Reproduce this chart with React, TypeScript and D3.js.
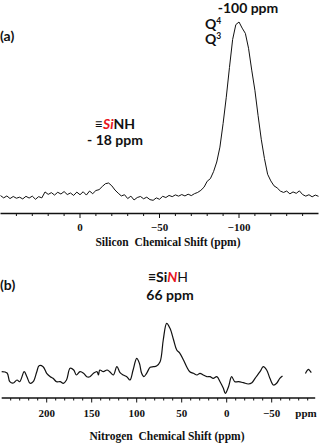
import * as d3 from "d3";

// (a) 29Si spectrum, intensity normalised so the main peak = 100
const siShift = [
  50, 48, 46, 44, 42, 40, 38, 36, 34, 32, 30, 28, 26, 24, 22, 20, 18, 16, 14, 12, 10, 8, 6, 4, 2, 0,
  -2, -4, -6, -8, -10, -12, -14, -16, -18, -20, -22, -24, -26, -28, -30, -32, -34, -36, -38, -40,
  -42, -44, -46, -48, -50, -52, -54, -56, -58, -60, -62, -64, -66, -68, -70, -72, -74, -76, -78, -80,
  -82, -84, -86, -88, -90, -92, -94, -96, -98, -100, -102, -104, -106, -108, -110, -112, -114, -116,
  -118, -120, -122, -124, -126, -128, -130, -132, -134, -136, -138, -140, -142, -144, -146, -148, -150,
];
const siIntensity = [
  0.8, -0.5, 0.6, -0.9, 0.3, -0.7, -0.1, -1.1, 0.4, -0.6, 0.5, -1.3, 0.2, -0.5, 2.9, 1.5, 2.5, 1.1, 2.7, 1.7, 3.1, 1.4, 2.3, 0.9, 2.8, 1.3,
  3.0, 1.1, 3.4, 1.9, 3.7, 4.2, 6.0, 7.6, 8.0, 6.4, 4.0, 2.2, 0.6, 1.3, -0.9, 0.5, -1.7, -0.3, 0.3, -1.0,
  -0.1, -1.5, -1.9, -0.5, -1.3, 0.4, -0.3, 0.9, 0.2, 1.2, 0.5, 1.4, 0.6, 1.6, 0.8, 1.9, 2.6, 3.8, 5.6, 9.0,
  10.5, 14.5, 20.0, 28.5, 42.0, 57.0, 74.0, 90.0, 98.5, 100, 96.5, 93.5, 85.0, 72.5, 61.0, 46.5, 33.0, 22.0,
  13.0, 9.2, 6.4, 5.2, 3.4, 2.6, 3.4, 1.8, 2.9, 2.1, 3.5, 1.4, 0.5, 1.3, 0.1, 1.1, 0.4,
];
const siLabels = [0, -50, -100];

// (b) 15N spectrum, peak at 66 ppm = 100
const nShift = [
  250, 244, 241, 237, 233, 230, 225, 222, 218.5, 215, 211, 208.5, 204, 200, 196, 193, 189, 185, 181.5,
  178, 174, 170, 167, 163, 159, 155.5, 152, 148, 144, 142.5, 141, 137, 133, 130, 126, 122, 118.5, 115,
  111, 107.5, 104, 100, 97, 94.5, 92, 89, 85, 81.5, 78, 74, 70.5, 66.7, 63, 59, 55.5, 52, 48, 44.5, 41,
  37, 33, 29.7, 26, 22, 18.5, 15, 11, 7.4, 3.7, 1.5, -2, -5.5, -9, -13, -18.5, -24, -28, -31.5, -37,
  -40.7, -44.4, -48, -52, -55.5, -59, -62,
];
const nIntensity = [
  2.6, 0, -17.4, -20, -14, -17.4, 2.6, -7.4, -20.6, -17.4, 2.6, 14.6, 12.6, -0.6, -7.4, -10.6, -17.4, -17.4, -20.6,
  -14, 9.4, 6, -4, 2.6, -0.6, -7.4, -7.4, -0.6, 2.6, -4, 6, 2.6, 6, 2.6, -4, 12.6, 0.6, -4,
  -7.4, -14, 6, 29.4, 19.4, -0.6, -7.4, -0.6, 11.4, 12.6, 14, 22.6, 66, 99.4, 89.4, 66, 46, 39.4, 26, 12.6, 2.6,
  -0.6, -4, -0.6, -4, -7.4, -7.4, -10.6, -7.4, -17.4, -30.6, -40.6, -27.4, -7.4, -17.4, -17.4, -19.4, -22, -19.4, -10.6, 2.6,
  12.6, 6, -10.6, -24, -20.6, -10.6, -6,
];
// stray fragment of trace near -90 ppm
const nTailShift = [-87.5, -89, -90.7, -92.3, -94];
const nTailIntensity = [-1, 4, 7.4, 4.6, 0.6];
const nLabels = [200, 150, 100, 50, 0, -50];

const RED = "#e8141e";
const SANS = "Lato, 'Open Sans', sans-serif";
const SERIF = "'Liberation Serif', 'Times New Roman', serif";

export default function App() {
  const width = 320;
  const height = 443;

  const xA = d3.scaleLinear().domain([50, -150]).range([0.5, 318.5]);
  const yA = d3.scaleLinear().domain([0, 100]).range([197, 22]);
  const axisA = 213.5;

  const xB = d3.scaleLinear().domain([250, -100]).range([1.7, 316.7]);
  const yB = d3.scaleLinear().domain([0, 100]).range([373, 323]);
  const axisB = 398;

  const lineA = d3
    .line<number>()
    .x((d, i) => xA(siShift[i]))
    .y((d) => yA(d));
  const lineB = d3
    .line<number>()
    .curve(d3.curveCatmullRom)
    .x((d, i) => xB(nShift[i]))
    .y((d) => yB(d));
  const lineTail = d3
    .line<number>()
    .curve(d3.curveCatmullRom)
    .x((d, i) => xB(nTailShift[i]))
    .y((d) => yB(d));

  const fmt = d3.format("d");
  const minorA = xA.ticks(20).filter((t) => t < 50 && t > -150);
  const minorB = xB.ticks(35).filter((t) => t < 250 && t > -100);

  return (
    <svg
      width={width}
      height={height}
      style={{ position: "absolute", left: 0, top: 0, background: "#fff" }}
    >
      {/* panel (a) */}
      <g>
        <path d={lineA(siIntensity) ?? ""} fill="none" stroke="#111" strokeWidth={1} />
        <line x1={xA.range()[0]} x2={xA.range()[1]} y1={axisA} y2={axisA} stroke="#111" strokeWidth={1.3} />
        {minorA.map((t) => (
          <line
            key={t}
            x1={xA(t)}
            x2={xA(t)}
            y1={axisA}
            y2={axisA + (siLabels.includes(t) ? 4.5 : 2.5)}
            stroke="#111"
            strokeWidth={1}
          />
        ))}
        <g fontFamily={SERIF} fontWeight="bold" fontSize={11} textAnchor="middle" fill="#111">
          {siLabels.map((t) => (
            <text key={t} x={xA(t)} y={231}>
              {fmt(t)}
            </text>
          ))}
          <text x={168} y={246} fontSize={11.5} style={{ whiteSpace: "pre" }}>
            {"Silicon  Chemical Shift (ppm)"}
          </text>
        </g>
        <g fontFamily={SANS} fontWeight="bold" fontSize={14} fill="#111">
          <text x={0} y={41}>(a)</text>
          <text x={248} y={13} textAnchor="middle">-100 ppm</text>
          <text x={205} y={29}>
            Q<tspan fontSize={8.5} dy={-5.5}>4</tspan>
          </text>
          <text x={205} y={44}>
            Q<tspan fontSize={8.5} dy={-5.5}>3</tspan>
          </text>
          <text x={115} y={129} textAnchor="middle">
            <tspan fontWeight="normal">≡</tspan>
            <tspan fill={RED} fontStyle="italic">Si</tspan>
            <tspan>NH</tspan>
          </text>
          <text x={115} y={145} textAnchor="middle">- 18 ppm</text>
        </g>
      </g>

      {/* panel (b) */}
      <g>
        <path d={lineB(nIntensity) ?? ""} fill="none" stroke="#111" strokeWidth={1.2} />
        <path d={lineTail(nTailIntensity) ?? ""} fill="none" stroke="#111" strokeWidth={1.2} />
        <line x1={xB.range()[0]} x2={xB.range()[1] - 1.5} y1={axisB} y2={axisB} stroke="#111" strokeWidth={1.3} />
        {minorB.map((t) => (
          <line
            key={t}
            x1={xB(t)}
            x2={xB(t)}
            y1={axisB}
            y2={axisB + (nLabels.includes(t) ? 4.5 : 2.5)}
            stroke="#111"
            strokeWidth={1}
          />
        ))}
        <g fontFamily={SERIF} fontWeight="bold" fontSize={11} textAnchor="middle" fill="#111">
          {nLabels.map((t) => (
            <text key={t} x={xB(t)} y={417}>
              {fmt(t)}
            </text>
          ))}
          <text x={306} y={417}>ppm</text>
          <text x={167} y={440} fontSize={11.5} style={{ whiteSpace: "pre" }}>
            {"Nitrogen  Chemical Shift (ppm)"}
          </text>
        </g>
        <g fontFamily={SANS} fontWeight="bold" fontSize={14} fill="#111">
          <text x={0} y={290}>(b)</text>
          <text x={168} y={282} textAnchor="middle">
            <tspan>≡Si</tspan>
            <tspan fill={RED} fontStyle="italic">N</tspan>
            <tspan fontWeight="normal">H</tspan>
          </text>
          <text x={170} y={300} textAnchor="middle">66 ppm</text>
        </g>
      </g>
    </svg>
  );
}
